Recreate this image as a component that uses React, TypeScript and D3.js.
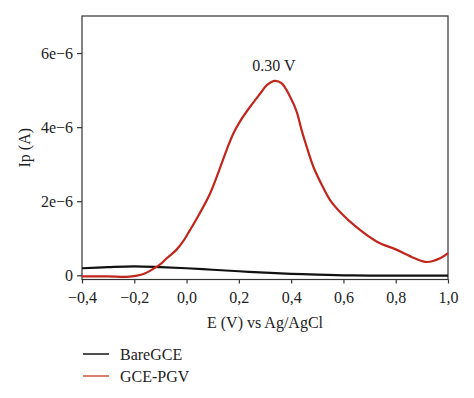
import { useEffect, useRef } from 'react'
import * as d3 from 'd3'

// Potential (V vs Ag/AgCl) and current (in units of 1e-6 A)
const redE = [-0.4, -0.3, -0.23, -0.19, -0.16, -0.14, -0.1, -0.076, -0.04, -0.01, 0.013, 0.05, 0.09, 0.128, 0.153, 0.179, 0.204, 0.243, 0.281, 0.308, 0.338, 0.364, 0.396, 0.421, 0.44, 0.459, 0.485, 0.518, 0.549, 0.587, 0.65, 0.73, 0.8, 0.87, 0.92, 0.97, 1.0]
const redI = [-0.03, -0.03, -0.04, -0.01, 0.05, 0.12, 0.3, 0.46, 0.68, 0.95, 1.22, 1.67, 2.21, 2.9, 3.38, 3.83, 4.15, 4.55, 4.9, 5.14, 5.25, 5.18, 4.82, 4.42, 3.92, 3.48, 2.93, 2.43, 2.03, 1.71, 1.3, 0.9, 0.7, 0.47, 0.36, 0.46, 0.6]

const blackE = [-0.4, -0.3, -0.2, -0.1, 0.0, 0.1, 0.2, 0.3, 0.4, 0.5, 0.6, 0.7, 0.8, 0.9, 1.0]
const blackI = [0.19, 0.22, 0.24, 0.22, 0.19, 0.15, 0.11, 0.07, 0.04, 0.02, 0.0, -0.01, -0.01, -0.01, -0.01]

const xTicks = [-0.4, -0.2, 0.0, 0.2, 0.4, 0.6, 0.8, 1.0]
const yTicks = [0, 2, 4, 6]
const yTickLabels = ['0', '2e\u22126', '4e\u22126', '6e\u22126']

const series = [
  { name: 'BareGCE', color: '#111111', legendColor: '#222222', E: blackE, I: blackI },
  { name: 'GCE-PGV', color: '#c0261b', legendColor: '#c8604c', E: redE, I: redI },
]

const FONT = "'Liberation Serif', 'DejaVu Serif', serif"

export default function App() {
  const svgRef = useRef<SVGSVGElement>(null)

  useEffect(() => {
    const svg = d3.select(svgRef.current)
    svg.selectAll('*').remove()

    const left = 82, right = 448, top = 16, bottom = 279.5
    const x = d3.scaleLinear().domain([-0.4, 1.0]).range([left, right])
    const y = d3.scaleLinear().domain([-0.113, 7.0]).range([bottom, top])

    const axisColor = '#333333'

    // frame
    svg.append('rect')
      .attr('x', left).attr('y', top)
      .attr('width', right - left).attr('height', bottom - top)
      .attr('fill', 'none').attr('stroke', axisColor).attr('stroke-width', 1.2)

    // Y axis
    svg.append('g')
      .attr('transform', `translate(${left},0)`)
      .call(d3.axisLeft(y).tickValues(yTicks).tickSize(5).tickPadding(4)
        .tickFormat((_, i) => yTickLabels[i]))
      .attr('font-family', FONT).attr('font-size', 16)
      .call(ax => {
        ax.select('.domain').remove()
        ax.selectAll('.tick line').attr('stroke', axisColor).attr('stroke-width', 1.2)
        ax.selectAll('text').attr('fill', '#222')
      })

    // X axis
    svg.append('g')
      .attr('transform', `translate(0,${bottom})`)
      .call(d3.axisBottom(x).tickValues(xTicks).tickSize(4).tickPadding(8)
        .tickFormat(d => d3.format('.1f')(d as number).replace('.', ',').replace('-', '\u2212')))
      .attr('font-family', FONT).attr('font-size', 16)
      .call(ax => {
        ax.select('.domain').remove()
        ax.selectAll('.tick line').attr('stroke', axisColor).attr('stroke-width', 1.2)
        ax.selectAll('text').attr('fill', '#222')
      })

    // axis titles
    svg.append('text')
      .attr('x', (left + right) / 2).attr('y', 328)
      .attr('text-anchor', 'middle')
      .attr('font-family', FONT).attr('font-size', 16).attr('fill', '#222')
      .text('E (V) vs Ag/AgCl')

    svg.append('text')
      .attr('transform', `translate(30,${(top + bottom) / 2}) rotate(-90)`)
      .attr('text-anchor', 'middle')
      .attr('font-family', FONT).attr('font-size', 16).attr('fill', '#222')
      .text('Ip (A)')

    // curves
    series.forEach(s => {
      const line = d3.line<number>()
        .x((_, i) => x(s.E[i]))
        .y(d => y(d))
        .curve(d3.curveCatmullRom.alpha(0.5))
      svg.append('path')
        .attr('d', line(s.I) ?? '')
        .attr('fill', 'none')
        .attr('stroke', s.color)
        .attr('stroke-width', 2.2)
        .attr('stroke-linejoin', 'round')
    })

    // peak label
    const peakIdx = d3.maxIndex(redI)
    svg.append('text')
      .attr('x', x(redE[peakIdx]) - 1).attr('y', y(redI[peakIdx]) - 10)
      .attr('text-anchor', 'middle')
      .attr('font-family', FONT).attr('font-size', 16).attr('fill', '#222')
      .text('0.30 V')

    // legend
    series.forEach((s, i) => {
      const ly = 354 + i * 22
      svg.append('line')
        .attr('x1', 83).attr('x2', 109).attr('y1', ly).attr('y2', ly)
        .attr('stroke', s.legendColor).attr('stroke-width', 1.6)
      svg.append('text')
        .attr('x', 120).attr('y', ly).attr('dy', '0.35em')
        .attr('font-family', FONT).attr('font-size', 16).attr('fill', '#222')
        .text(s.name)
    })
  }, [])

  return (
    <svg ref={svgRef} width={474} height={398}
      style={{ position: 'absolute', left: 0, top: 0, display: 'block', background: '#fff' }} />
  )
}
